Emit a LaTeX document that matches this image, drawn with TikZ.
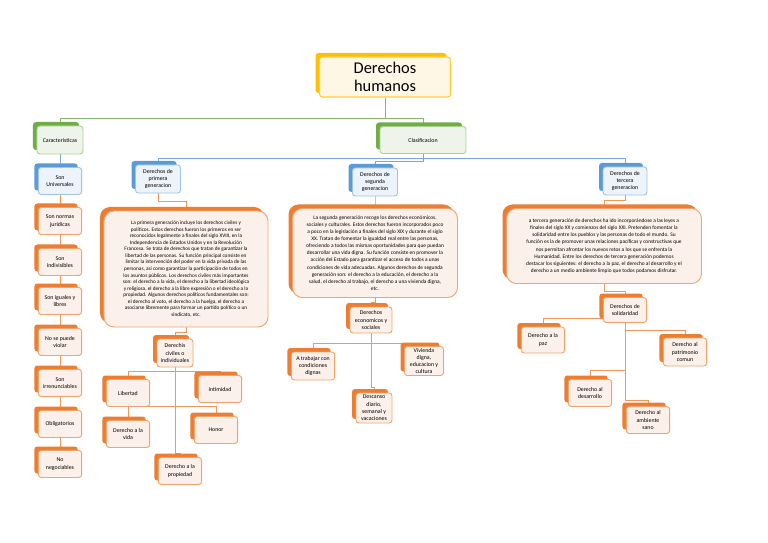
\documentclass[tikz,border=0pt]{standalone}
\usepackage{fontspec}
\setmainfont{Carlito}
\usetikzlibrary{shadows,backgrounds}
\definecolor{DHOrange}{HTML}{ED7D31}
\definecolor{DHOrLine}{HTML}{F2A36B}
\definecolor{DHOrFill}{HTML}{FCF1EA}
\definecolor{DHBlue}{HTML}{5B9BD5}
\definecolor{DHBuLine}{HTML}{9DC3E6}
\definecolor{DHBuFill}{HTML}{EDF3FA}
\definecolor{DHGreen}{HTML}{70AD47}
\definecolor{DHGrLine}{HTML}{A9D18E}
\definecolor{DHGrFill}{HTML}{EFF4EA}
\definecolor{DHYellow}{HTML}{FFC000}
\definecolor{DHYeLine}{HTML}{FFCD3C}
\definecolor{DHYeFill}{HTML}{FFF7E6}
\tikzset{
  dhbox/.style={draw, rounded corners=2.5pt, line width=0.8pt, align=center, inner sep=1pt,
    minimum width=1.3cm, minimum height=0.81cm, font=\fontsize{5}{6.2}\selectfont},
  orbox/.style={dhbox, draw=DHOrLine, fill=DHOrFill,
    general shadow={fill=DHOrange, shadow xshift=-0.12cm, shadow yshift=0.12cm}},
  bubox/.style={dhbox, draw=DHBuLine, fill=DHBuFill,
    general shadow={fill=DHBlue, shadow xshift=-0.12cm, shadow yshift=0.12cm}},
  grbox/.style={dhbox, draw=DHGrLine, fill=DHGrFill,
    general shadow={fill=DHGreen, shadow xshift=-0.12cm, shadow yshift=0.12cm}},
  textbox/.style={orbox, rounded corners=0.3cm, inner sep=2pt, font=\fontsize{4.5}{5.6}\selectfont},
  busdrop/.style={to path={-- ++(0,#1) -| (\tikztotarget)}},
  orline/.style={draw=DHOrange!80, line width=0.7pt},
  buline/.style={draw=DHBlue!85, line width=0.7pt},
  grline/.style={draw=DHGreen!85, line width=0.7pt}
}
\begin{document}
\begin{tikzpicture}[x=0.03cm,y=-0.03cm]
\path[use as bounding box] (0,0) rectangle (768,543);
\node[dhbox, draw=DHYeLine, fill=DHYeFill, line width=1pt, minimum width=3.93cm, minimum height=1.2cm,
  font=\fontsize{14}{15.5}\selectfont,
  general shadow={fill=DHYellow, shadow xshift=-0.12cm, shadow yshift=0.12cm}] (title) at (385,77) {Derechos\\humanos};
\node[grbox, minimum width=1.38cm, minimum height=0.84cm] (car) at (60,140) {Caracteristicas};
\node[grbox, minimum width=2.58cm] (cla) at (423,140) {Clasificacion};

\node[bubox] (uni) at (60,181) {Son\\Universales};
\node[orbox] (nor) at (60,221) {Son normas\\juridicas};
\node[orbox] (ind) at (60,262) {Son\\indivisibles};
\node[orbox] (igu) at (60,301) {Son iguales y\\libres};
\node[orbox] (vio) at (60,342) {No se puede\\violar};
\node[orbox] (irr) at (60,383) {Son\\irrenunciables};
\node[orbox] (obl) at (60,424) {Obligatorios};
\node[orbox] (neg) at (60,464) {No\\negociables};

\node[bubox, minimum width=1.35cm, minimum height=0.84cm] (gen1) at (158,179) {Derechos de\\primera\\generacion};
\node[bubox, minimum width=1.35cm, minimum height=0.84cm] (gen2) at (375,182) {Derechos de\\segunda\\generacion};
\node[bubox, minimum width=1.32cm, minimum height=0.84cm] (gen3) at (625,181) {Derechos de\\tercera\\generacion};

\node[textbox, minimum width=4.92cm, minimum height=3.48cm] (txt1) at (186,269) {La primera generación incluye los derechos civiles y\\
políticos. Estos derechos fueron los primeros en ser\\
reconocidos legalmente a finales del siglo XVIII, en la\\
Independencia de Estados Unidos y en la Revolución\\
Francesa. Se trata de derechos que tratan de garantizar la\\
libertad de las personas. Su función principal consiste en\\
limitar la intervención del poder en la vida privada de las\\
personas, así como garantizar la participación de todos en\\
los asuntos públicos. Los derechos civiles más importantes\\
son: el derecho a la vida, el derecho a la libertad ideológica\\
y religiosa, el derecho a la libre expresión o el derecho a la\\
propiedad. Algunos derechos políticos fundamentales son:\\
el derecho al voto, el derecho a la huelga, el derecho a\\
asociarse libremente para formar un partido político o un\\
sindicato, etc.};
\node[textbox, minimum width=4.95cm, minimum height=2.67cm, font=\fontsize{4.6}{6.1}\selectfont] (txt2) at (375,253) {La segunda generación recoge los derechos económicos,\\
sociales y culturales. Estos derechos fueron incorporados poco\\
a poco en la legislación a finales del siglo XIX y durante el siglo\\
XX. Tratan de fomentar la igualdad real entre las personas,\\
ofreciendo a todos las mismas oportunidades para que puedan\\
desarrollar una vida digna. Su función consiste en promover la\\
acción del Estado para garantizar el acceso de todos a unas\\
condiciones de vida adecuadas. Algunos derechos de segunda\\
generación son: el derecho a la educación, el derecho a la\\
salud, el derecho al trabajo, el derecho a una vivienda digna,\\
etc.};
\node[textbox, minimum width=5.85cm, minimum height=2.25cm, font=\fontsize{4.6}{6.1}\selectfont] (txt3) at (604,246) {a tercera generación de derechos ha ido incorporándose a las leyes a\\
finales del siglo XX y comienzos del siglo XXI. Pretenden fomentar la\\
solidaridad entre los pueblos y las personas de todo el mundo. Su\\
función es la de promover unas relaciones pacíficas y constructivas que\\
nos permitan afrontar los nuevos retos a los que se enfrenta la\\
Humanidad. Entre los derechos de tercera generación podemos\\
destacar los siguientes: el derecho a la paz, el derecho al desarrollo y el\\
derecho a un medio ambiente limpio que todos podamos disfrutar.};

\node[orbox, minimum width=1.08cm, minimum height=0.84cm] (civ) at (175,353) {Derechis\\civiles o\\individuales};
\node[orbox] (lib) at (128,393) {Libertad};
\node[orbox] (inti) at (220,389) {Intimidad};
\node[orbox] (vida) at (128,434) {Derecho a la\\vida};
\node[orbox] (hon) at (216,430) {Honor};
\node[orbox] (prop) at (180,471) {Derecho a la\\propiedad};

\node[orbox, minimum width=1.26cm, minimum height=0.78cm] (eco) at (371,320) {Derechos\\economicos y\\sociales};
\node[orbox, minimum height=0.84cm] (trab) at (313,366) {A trabajar con\\condiciones\\dignas};
\node[orbox, minimum width=1.17cm, minimum height=0.87cm] (viv) at (424,361) {Vivienda\\digna,\\educacion y\\cultura};
\node[orbox, minimum width=1.08cm, minimum height=0.9cm] (desc) at (374,408) {Descanso\\diario,\\semanal y\\vacaciones};

\node[orbox, minimum height=0.75cm] (sol) at (625,310) {Derechos de\\solidaridad};
\node[orbox, minimum height=0.78cm] (paz) at (543,340) {Derecho a la\\paz};
\node[orbox, minimum height=0.84cm] (pat) at (685,352) {Derecho al\\patrimonio\\comun};
\node[orbox] (desa) at (590,393) {Derecho al\\desarrollo};
\node[orbox] (amb) at (648,420) {Derecho al\\ambiente\\sano};

\begin{pgfonlayer}{background}
\draw[grline] (title.south) to[busdrop=21] (car.north);
\draw[grline] (title.south) to[busdrop=21] (cla.north);
\draw[buline] (car.south) -- (uni.north);
\draw[orline] (uni.south) -- (nor.north);
\draw[orline] (nor.south) -- (ind.north);
\draw[orline] (ind.south) -- (igu.north);
\draw[orline] (igu.south) -- (vio.north);
\draw[orline] (vio.south) -- (irr.north);
\draw[orline] (irr.south) -- (obl.north);
\draw[orline] (obl.south) -- (neg.north);
\draw[buline] (cla.south) to[busdrop=4] (gen1.north);
\draw[buline] (cla.south) to[busdrop=7] (gen2.north);
\draw[buline] (cla.south) to[busdrop=4] (gen3.north);
\draw[orline] (gen1.south) to[busdrop=8] (txt1.north);
\draw[orline] (gen2.south) to[busdrop=4] (txt2.north);
\draw[orline] (gen3.south) to[busdrop=5] (txt3.north);
\draw[orline] (txt1.south) to[busdrop=5] (civ.north);
\draw[orline] (civ.south) to[busdrop=4] (lib.north);
\draw[orline] (civ.south) to[busdrop=4] (inti.north);
\draw[orline] (civ.south) to[busdrop=39] (vida.north);
\draw[orline] (civ.south) to[busdrop=39] (hon.north);
\draw[orline] (civ.south) to[busdrop=86] (prop.north);
\draw[orline] (txt2.south) to[busdrop=4] (eco.north);
\draw[orline] (eco.south) to[busdrop=10] (trab.north);
\draw[orline] (eco.south) to[busdrop=10] (viv.north);
\draw[orline] (eco.south) to[busdrop=54] (desc.north);
\draw[orline] (txt3.south) to[busdrop=7] (sol.north);
\draw[orline] ([yshift=-0.24cm]sol.west) -| (paz.north);
\draw[orline] (sol.south) to[busdrop=7] (pat.north);
\draw[orline] (sol.south) to[busdrop=47] (desa.north);
\draw[orline] (sol.south) to[busdrop=77] (amb.north);
\end{pgfonlayer}
\end{tikzpicture}
\end{document}
